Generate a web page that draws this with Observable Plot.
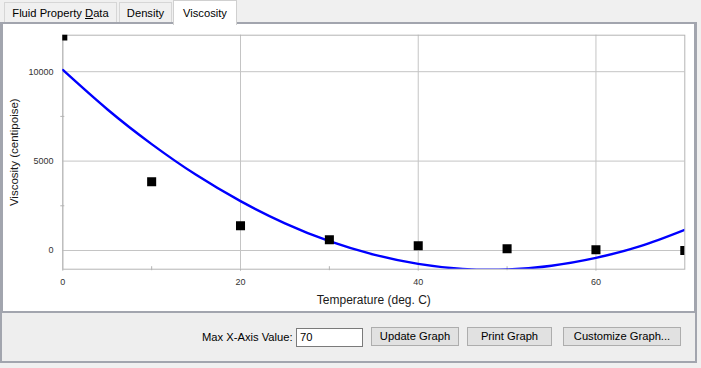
<!DOCTYPE html>
<html><head><meta charset="utf-8">
<script src="https://cdn.jsdelivr.net/npm/d3@7"></script>
<script src="https://cdn.jsdelivr.net/npm/@observablehq/plot@0.6"></script>
<style>
body{margin:0;width:701px;height:368px;background:#f0f0f0;position:relative;overflow:hidden;font-family:"Liberation Sans",Arial,sans-serif;}
.abs{position:absolute;box-sizing:border-box;}
.tab{position:absolute;box-sizing:border-box;top:2px;height:20px;background:#f0f0f0;border:1px solid #d6d6d6;border-bottom:none;font-size:11.2px;color:#000;text-align:center;line-height:21px;}
.tab.sel{top:0;height:25px;background:#fff;border-color:#d0d0d0;line-height:24px;z-index:3;}
.panel{left:0;top:22px;width:697px;height:290px;background:#fff;border-top:2px solid #a2a5ae;border-left:3px solid #a2a5ae;border-right:3px solid #a2a5ae;z-index:1;}
.bottom{left:0;top:311px;width:697px;height:52px;background:#eeeeee;border-top:2px solid #a2a5ae;border-bottom:2px solid #a2a5ae;border-left:2px solid #a2a5ae;border-right:2px solid #a2a5ae;z-index:2;}
.lbl{font-size:11.2px;color:#000;}
.btn{background:#e1e1e1;border:1px solid #adadad;font-size:11.2px;color:#000;text-align:center;line-height:17px;}
.inp{background:#fff;border:1px solid #7a7a7a;font-size:11.2px;color:#000;line-height:17px;padding-left:3px;}
#chart{position:absolute;left:3px;top:24px;z-index:4;}
</style></head>
<body>
<div class="tab" style="left:4px;width:113px;">Fluid Property <u>D</u>ata</div>
<div class="tab" style="left:119px;width:53px;">Density</div>
<div class="tab sel" style="left:173px;width:64px;">Viscosity</div>
<div class="abs panel"></div>
<div class="abs bottom"></div>
<div class="abs lbl" style="left:202px;top:331px;z-index:5;">Max X-Axis Value:</div>
<div class="abs inp" style="left:296px;top:328px;width:67px;height:19px;z-index:5;">70</div>
<div class="abs btn" style="left:371px;top:327px;width:88px;height:19px;z-index:5;">Update Graph</div>
<div class="abs btn" style="left:467px;top:327px;width:85px;height:19px;z-index:5;">Print Graph</div>
<div class="abs btn" style="left:563px;top:327px;width:118px;height:19px;z-index:5;">Customize Graph...</div>
<div id="chart"></div>
<script>
// Measured data points (temperature in deg. C, viscosity in centipoise)
const temps = [0, 10, 20, 30, 40, 50, 60, 70];
const viscosity = [12000, 3850, 1380, 600, 270, 95, 40, 5];

// Fitted curve
const fitTemps = [0, 5, 10, 15, 20, 25, 30, 35, 40, 45, 50, 55, 60, 65, 70];
const fitViscosity = [10100, 7900, 5950, 4230, 2760, 1520, 520, -230, -750, -1030, -1060, -850, -410, 240, 1160];

const xTicks = [0, 20, 40, 60];
const xMinorTicks = [10, 30, 50];
const yTicks = [0, 5000, 10000];
const yMinorTicks = [2500, 7500];

const points = temps.map((t, i) => ({t, v: viscosity[i]}));
const fit = fitTemps.map((t, i) => ({t, v: fitViscosity[i]}));

const gridColor = "#c4c4c4";
const fmt = d => String(d);
const chart = Plot.plot({
  width: 691,
  height: 287,
  marginLeft: 59.3,
  marginRight: 9.7,
  marginTop: 10.7,
  marginBottom: 42.3,
  style: {fontFamily: "'Liberation Sans', Arial, sans-serif", background: "transparent", overflow: "visible"},
  x: {domain: [0, 70]},
  y: {domain: [-1046, 12041]},
  marks: [
    Plot.gridX(xTicks, {stroke: gridColor, strokeOpacity: 1}),
    Plot.gridY(yTicks, {stroke: gridColor, strokeOpacity: 1}),
    Plot.frame({stroke: "#b4b4b4"}),
    Plot.axisX(xTicks, {tickSize: 2, tickPadding: 7, fontSize: 9, fill: "#333", stroke: "#b4b4b4", tickFormat: fmt,
      label: "Temperature (deg. C)", labelAnchor: "center", labelOffset: 35, labelArrow: "none"}),
    Plot.axisX(xMinorTicks, {tickSize: 4, text: null, label: null, dy: -2.5, stroke: "#b4b4b4"}),
    Plot.axisY(yTicks, {tickSize: 0, tickPadding: 9.3, fontSize: 9, fill: "#333", tickFormat: fmt,
      label: "Viscosity (centipoise)", labelAnchor: "center", labelOffset: 53, labelArrow: "none"}),
    Plot.axisY(yMinorTicks, {tickSize: 4, text: null, label: null, dx: 2, stroke: "#b4b4b4"}),
    Plot.line(fit, {x: "t", y: "v", curve: "natural", stroke: "#0000ff", strokeWidth: 2.4, clip: true}),
    Plot.dot(points, {x: "t", y: "v", symbol: "square", r: 5.1, fill: "black", clip: true})
  ]
});
chart.querySelectorAll("g[aria-label='x-axis label'] text").forEach(t => {
  t.setAttribute("font-size", "12");
  t.setAttribute("fill", "#1a1a1a");
  t.textContent = "Temperature (deg. C)";
});
chart.querySelectorAll("g[aria-label='y-axis label'] text").forEach(t => {
  t.setAttribute("font-size", "11.5");
  t.setAttribute("fill", "#1a1a1a");
  t.textContent = "Viscosity (centipoise)";
});
document.getElementById("chart").appendChild(chart);
</script>
</body></html>
